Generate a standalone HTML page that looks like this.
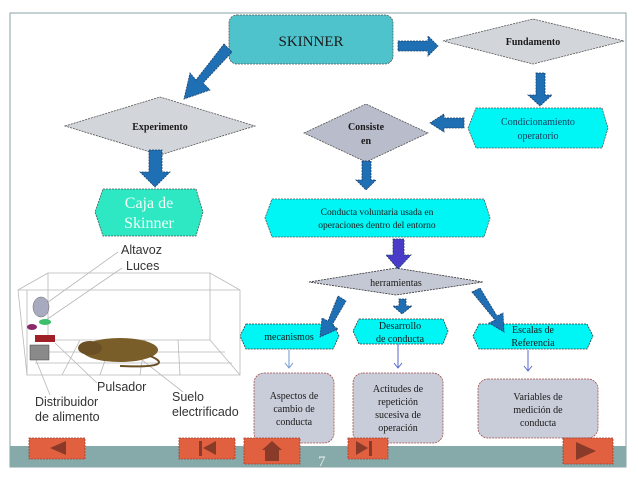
<!DOCTYPE html>
<html><head><meta charset="utf-8"><style>
html,body{margin:0;padding:0;background:#fff;}
svg{display:block;}
.s{font-family:"Liberation Serif",serif;}
.a{font-family:"Liberation Sans",sans-serif;fill:#333;font-size:12.5px;}
</style></head><body>
<svg width="638" height="479" viewBox="0 0 638 479" xmlns="http://www.w3.org/2000/svg">
<rect x="10" y="13" width="616" height="454" fill="#fff" stroke="#8aa3a5" stroke-width="1"/>
<rect x="10" y="446" width="616" height="21" fill="#86aaa9"/>
<g stroke="#1a3f6a" stroke-width="0.8" stroke-dasharray="2,1">
<!-- shapes -->
<rect x="229" y="15" width="164" height="49" rx="8" fill="#4ec3cc" stroke="#555"/>
<polygon points="443,41 533,19 624,41 533,64" fill="#d2d5da" stroke="#555"/>
<polygon points="65,126 160,97 255,126 160,155" fill="#d2d5da" stroke="#555"/>
<polygon points="304,133 366,104 428,133 366,162" fill="#b8bccb" stroke="#555"/>
<polygon points="476,108 602,108 608,128 602,148 476,148 468,128" fill="#00f5f5" stroke="#555"/>
<polygon points="103,189 196,189 203,212 196,236 103,236 95,212" fill="#2ee8c4" stroke="#555"/>
<polygon points="272,199 484,199 490,218 484,237 272,237 265,218" fill="#00f5f5" stroke="#555"/>
<polygon points="309,282 396,268 483,282 396,295" fill="#c4c8d4" stroke="#333"/>
<polygon points="246,324 333,324 339,336 333,349 246,349 240,336" fill="#00f5f5" stroke="#333"/>
<polygon points="359,319 443,319 448,331 443,344 359,344 353,331" fill="#00f5f5" stroke="#333"/>
<polygon points="479,324 587,324 593,336 587,349 479,349 473,336" fill="#00f5f5" stroke="#333"/>
<rect x="254" y="373" width="80" height="70" rx="10" fill="#c9ccd9" stroke="#a0504a"/>
<rect x="353" y="373" width="90" height="70" rx="10" fill="#c9ccd9" stroke="#a0504a"/>
<rect x="478" y="379" width="120" height="59" rx="10" fill="#c9ccd9" stroke="#a0504a"/>
<!-- block arrows -->
<polygon points="398,41 428,41 428,36 438,46 428,56 428,51 398,51" fill="#1f6fb5"/>
<polygon points="224,44 232,52 203,83 210,90 184,99 190,73 196,80" fill="#1f6fb5"/>
<polygon points="536,73 545,73 545,95 552,95 540,106 528,95 536,95" fill="#1f6fb5"/>
<polygon points="464,118 444,118 444,114 430,123 444,132 444,128 464,128" fill="#1f6fb5"/>
<polygon points="149,150 162,150 162,172 170,172 155,187 140,172 149,172" fill="#1f6fb5"/>
<polygon points="362,161 371,161 371,180 376,180 366,190 356,180 362,180" fill="#1f6fb5"/>
<polygon points="393,239 404,239 404,255 411,255 398,269 386,255 393,255" fill="#4a3cc8"/>
<polygon points="338,296 346,301 332,325 338,329 320,337 322,318 328,321" fill="#1f6fb5"/>
<polygon points="399,299 406,299 406,306 412,306 402,314 393,306 399,306" fill="#1f6fb5"/>
<polygon points="472,292 480,288 497,316 503,313 504,332 489,323 495,320" fill="#1f6fb5"/>
<!-- nav buttons -->
<rect x="29" y="438" width="56" height="21" fill="#e06040" stroke="#a04030"/>
<rect x="179" y="438" width="56" height="21" fill="#e06040" stroke="#a04030"/>
<rect x="244" y="438" width="56" height="26" fill="#e06040" stroke="#a04030"/>
<rect x="348" y="438" width="40" height="21" fill="#e06040" stroke="#a04030"/>
<rect x="563" y="438" width="50" height="26" fill="#e06040" stroke="#a04030"/>
</g>
<g fill="#8a3a28">
<polygon points="50,448 66,441 66,455"/>
<rect x="199" y="441" width="3" height="15"/><polygon points="203,448 216,441 216,455"/>
<polygon points="272,441 262,450 282,450"/><rect x="265" y="450" width="14" height="11"/>
<polygon points="356,441 368,448 356,455"/><rect x="369" y="441" width="3" height="15"/>
<polygon points="576,442 596,451 576,460"/>
</g>
<text x="318" y="466" font-size="15" fill="#e8eeee" class="s">7</text>
<!-- thin arrows -->
<g stroke="#5566cc" fill="none" stroke-width="1">
<line x1="289" y1="350" x2="289" y2="367" stroke="#6a9ad0"/><polyline points="285,363 289,368 293,363" stroke="#6a9ad0"/>
<line x1="398" y1="344" x2="398" y2="368"/><polyline points="394,363 398,368 402,363"/>
<line x1="528" y1="350" x2="528" y2="371"/><polyline points="524,366 528,371 532,366"/>
</g>
<!-- texts -->
<g class="s" fill="#1a1a1a" text-anchor="middle">
<text x="311" y="46" font-size="15">SKINNER</text>
<text x="533" y="45" font-size="10" font-weight="bold">Fundamento</text>
<text x="160" y="130" font-size="10" font-weight="bold">Experimento</text>
<text x="366" y="130" font-size="10" font-weight="bold">Consiste</text>
<text x="366" y="144" font-size="10" font-weight="bold">en</text>
<text x="538" y="125" font-size="10" fill="#1a3a5a">Condicionamiento</text>
<text x="538" y="139" font-size="10" fill="#1a3a5a">operatorio</text>
<text x="149" y="208" font-size="16" fill="#f4fff8">Caja de</text>
<text x="149" y="228" font-size="16" fill="#f4fff8">Skinner</text>
<text x="377" y="215" font-size="9.5">Conducta voluntaria usada en</text>
<text x="377" y="228" font-size="9.5">operaciones dentro del entorno</text>
<text x="396" y="286" font-size="10">herramientas</text>
<text x="289" y="340" font-size="10">mecanismos</text>
<text x="400" y="329" font-size="10">Desarrollo</text>
<text x="400" y="342" font-size="10">de conducta</text>
<text x="533" y="333" font-size="10">Escalas de</text>
<text x="533" y="346" font-size="10">Referencia</text>
<text x="294" y="399" font-size="10">Aspectos de</text>
<text x="294" y="412" font-size="10">cambio de</text>
<text x="294" y="425" font-size="10">conducta</text>
<text x="398" y="392" font-size="10">Actitudes de</text>
<text x="398" y="405" font-size="10">repetición</text>
<text x="398" y="418" font-size="10">sucesiva de</text>
<text x="398" y="431" font-size="10">operación</text>
<text x="538" y="400" font-size="10">Variables de</text>
<text x="538" y="413" font-size="10">medición de</text>
<text x="538" y="426" font-size="10">conducta</text>
</g>
<!-- skinner box illustration -->
<g stroke="#b8b8b8" fill="none" stroke-width="0.8">
<polyline points="48,273 210,273 240,290 240,375 27,375 18,290 48,273"/>
<line x1="18" y1="290" x2="240" y2="290"/>
<line x1="48" y1="273" x2="48" y2="340"/><line x1="48" y1="340" x2="210" y2="340"/><line x1="210" y1="273" x2="210" y2="340"/>
<line x1="210" y1="340" x2="240" y2="375"/><line x1="27" y1="375" x2="27" y2="290"/>
<line x1="40" y1="352" x2="225" y2="352"/><line x1="35" y1="363" x2="232" y2="363"/>
<line x1="80" y1="340" x2="62" y2="375"/><line x1="112" y1="340" x2="100" y2="375"/><line x1="145" y1="340" x2="140" y2="375"/><line x1="178" y1="340" x2="180" y2="375"/>
<line x1="118" y1="252" x2="44" y2="305"/><line x1="122" y1="268" x2="46" y2="320"/>
<line x1="55" y1="343" x2="97" y2="383"/><line x1="34" y1="355" x2="50" y2="395"/><line x1="142" y1="360" x2="183" y2="392"/>
</g>
<ellipse cx="41" cy="307" rx="8" ry="10" fill="#a8aac0" stroke="#666" stroke-width="0.5"/>
<ellipse cx="45" cy="322" rx="6" ry="3" fill="#3bbf6a"/>
<ellipse cx="32" cy="327" rx="5" ry="3" fill="#8a2a6a"/>
<rect x="35" y="335" width="20" height="7" fill="#a02028"/>
<rect x="30" y="345" width="19" height="15" fill="#8a8a8a" stroke="#444" stroke-width="0.5"/>
<ellipse cx="120" cy="350" rx="38" ry="12" fill="#7a5e2a"/>
<ellipse cx="90" cy="348" rx="12" ry="7" fill="#6a5024"/>
<path d="M150,356 C165,362 165,368 120,366" stroke="#6a5024" stroke-width="2" fill="none"/>
<g class="a">
<text x="121" y="254">Altavoz</text>
<text x="126" y="270">Luces</text>
<text x="97" y="391">Pulsador</text>
<text x="35" y="406">Distribuidor</text>
<text x="35" y="421">de alimento</text>
<text x="172" y="401">Suelo</text>
<text x="172" y="416">electrificado</text>
</g>
</svg>
</body></html>
